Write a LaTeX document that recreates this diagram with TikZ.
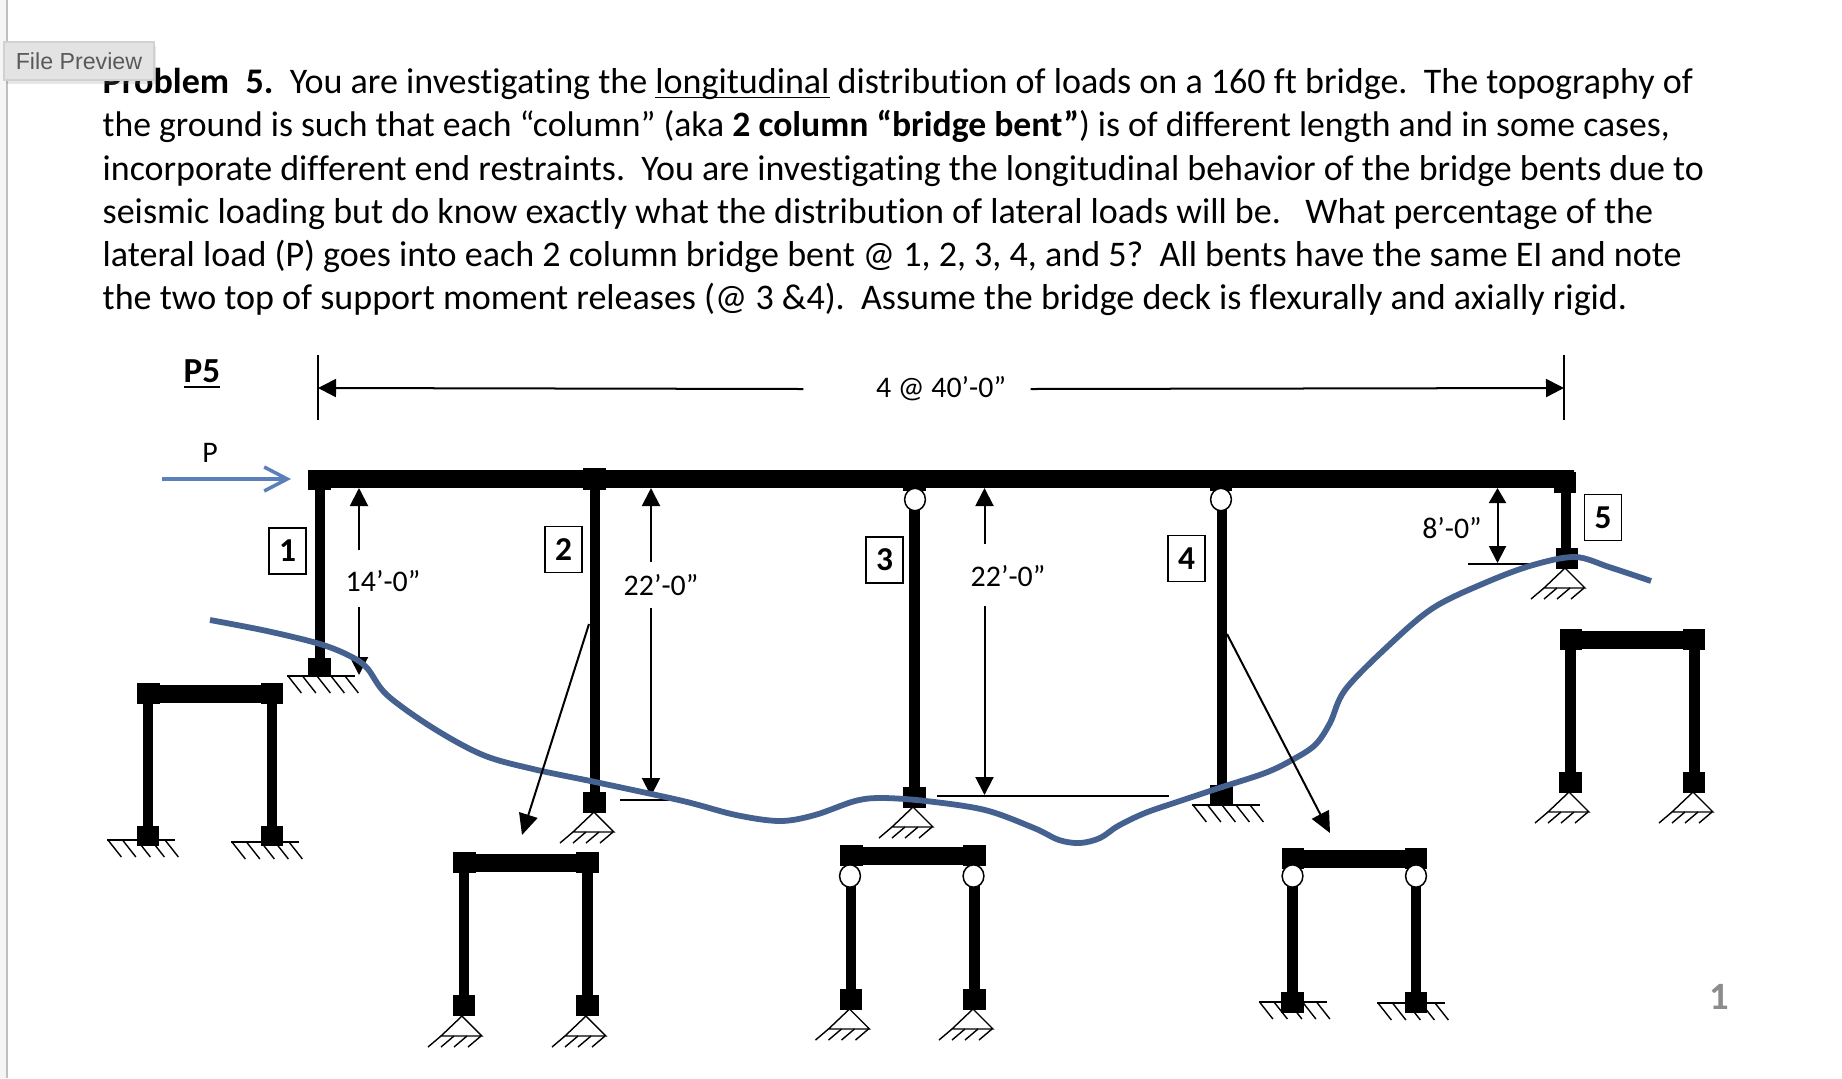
\documentclass[tikz,border=0pt]{standalone}
\usepackage{fontspec}
\setmainfont[Ligatures=CommonOff]{Carlito}
\newfontfamily\tabfont{Liberation Sans}
\usetikzlibrary{arrows.meta,shadows}
\definecolor{groundblue}{HTML}{44618F}
\definecolor{loadblue}{HTML}{5B7FB8}
\definecolor{tabgray}{HTML}{E3E3E3}
\tikzset{
	bodyline/.style={anchor=base west, inner sep=0, font=\fontsize{#1}{12}\selectfont},
	bodyline/.default=10.25,
	dimlabel/.style={inner sep=0, font=\fontsize{8.5}{10}\selectfont},
	numbox/.style={draw, line width=0.016cm, minimum width=0.37cm, minimum height=0.46cm, inner sep=0, font=\fontsize{9.5}{10}\selectfont\bfseries},
	dimline/.style={line width=0.02cm},
	dimarrow/.style={line width=0.02cm, -{Triangle[length=0.18cm,width=0.18cm]}},
	leader/.style={line width=0.02cm, -{Triangle[length=0.21cm,width=0.19cm]}},
}
\def\lowline#1{\setbox0\hbox{#1}\rlap{\rule[-1.5pt]{\wd0}{0.45pt}}\box0\relax}
\def\column(#1,#2,#3){\fill (#1-5.2,#2) rectangle (#1+5.2,#3);}
\def\block(#1,#2){\fill (#1-11.3,#2) rectangle (#1+11.3,#2+20.5);}
\def\hinge(#1,#2){\draw[line width=0.015cm, fill=white] (#1,#2) ellipse (10.4 and 11.2);}
\def\pinsupport(#1,#2){
	\draw[line width=0.014cm] (#1,#2) -- (#1-21,#2+20) -- (#1+20,#2+20) -- cycle;
	\foreach \hx in {-21,-8,5,19} \draw[line width=0.014cm] (#1+\hx,#2+20) -- ++(-13,11);
}
\def\fixsupport(#1,#2){
	\draw[line width=0.014cm] (#1,#2) -- ++(68,0);
	\foreach \hx in {1,15.5,30,44,58} \draw[line width=0.014cm] (#1+\hx,#2) -- ++(13.4,17);
}
\def\bentbeam(#1,#2,#3){
	\fill (#1,#3+2) rectangle (#2,#3+20);
	\fill (#1,#3) rectangle (#1+22.5,#3+21);
	\fill (#2-22.5,#3) rectangle (#2,#3+21);
}

\begin{document}
\begin{tikzpicture}[x=0.01cm,y=-0.01cm]
	\useasboundingbox (0,0) rectangle (1842,1078);
	
	%%%%% PAGE %%%%%
	\fill[black!4] (0,0) rectangle (7,1078);
	\draw[black!25, line width=0.02cm] (7,0) -- (7,1078);
	
	\node[bodyline] (line1) at (102,93) {\textbf{Problem\ \ 5.}\ \ You are investigating the \lowline{longitudinal} distribution of loads on a 160 ft bridge.\ \ The topography of};
	\node[bodyline=10.14] (line2) at (102,136) {the ground is such that each “column” (aka \textbf{2 column “bridge bent”}) is of different length and in some cases,};
	\node[bodyline=10.22] (line3) at (102,180) {incorporate different end restraints.\ \ You are investigating the longitudinal behavior of the bridge bents due to};
	\node[bodyline] (line4) at (102,223) {seismic loading but do know exactly what the distribution of lateral loads will be.\ \ \ What percentage of the};
	\node[bodyline] (line5) at (102,266) {lateral load (P) goes into each 2 column bridge bent @ 1, 2, 3, 4, and 5?\ \ All bents have the same EI and note};
	\node[bodyline] (line6) at (102,309) {the two top of support moment releases (@ 3 \&4).\ \ Assume the bridge deck is flexurally and axially rigid.};
	
	\node[draw=black!18, fill=tabgray, drop shadow={opacity=0.2,shadow xshift=0.02cm,shadow yshift=-0.04cm}, minimum width=1.5cm, minimum height=0.38cm, inner sep=0, text=black!65, font=\tabfont\fontsize{6.6}{8}\selectfont] (filetab) at (79,61) {File Preview};
	
	\node[dimlabel, font=\fontsize{10}{12}\selectfont\bfseries] (probtag) at (202,373.5) {\lowline{P5}};
	\node[dimlabel] (spanlabel) at (941,389) {4 @ 40’-0”};
	\node[dimlabel] (loadlabel) at (210,453) {P};
	\node[dimlabel] (dim14) at (383,581) {14’-0”};
	\node[dimlabel] (dim22a) at (661,585) {22’-0”};
	\node[dimlabel] (dim22b) at (1008,576) {22’-0”};
	\node[dimlabel] (dim8) at (1452,528) {8’-0”};
	\node[dimlabel, text=black!45, font=\fontsize{11}{12}\selectfont\bfseries] (pagenum) at (1719,997) {1};
	
	%%%%% SPAN DIMENSION %%%%%
	\coordinate (spanL) at (318,388);
	\coordinate (spanR) at (1564,388);
	\draw[dimline] (318,355) -- (318,420);
	\draw[dimline] (1564,355) -- (1564,420);
	\draw[dimarrow] (spanlabel.west) ++(-72,0) -- (spanL);
	\draw[dimarrow] (spanlabel.east) ++(24,0) -- (spanR);
	
	%%%%% BRIDGE %%%%%
	\fill (308,470) rectangle (1574,488);
	\fill (308,470) rectangle (331,490);
	\fill (583,468) rectangle (606,490);
	\fill (903,480) rectangle (926,491);
	\fill (1210,480) rectangle (1232,491);
	\fill (1554,472) rectangle (1576,493);
	
	\column(320,488,658)
	\column(595,488,792)
	\column(914.5,505,787)
	\column(1222,505,786)
	\column(1566,490,548)
	
	\hinge(915,499.5)
	\hinge(1221,499.5)
	
	\fill (308,658) rectangle (331,676);
	\block(594.5,792)
	\block(914.5,787)
	\fill (1210,785) rectangle (1233,806);
	\block(1567,548)
	
	\fixsupport(287,676)
	\pinsupport(594,812)
	\pinsupport(913,807)
	\fixsupport(1192,805)
	\pinsupport(1565,568)
	
	%%%%% DIMENSIONS %%%%%
	\coordinate (d14top) at (359,488);
	\coordinate (d14bot) at (359,675);
	\draw[dimarrow] (359,550) -- (d14top);
	\draw[dimarrow] (359,607) -- (d14bot);
	
	\coordinate (d22atop) at (651,488);
	\coordinate (d22abot) at (651,796);
	\draw[dimarrow] (651,562) -- (d22atop);
	\draw[dimarrow] (651,608) -- (d22abot);
	\draw[dimline] (620,800) -- (683,800);
	
	\coordinate (d22btop) at (984.5,488);
	\coordinate (d22bbot) at (984.5,795);
	\draw[dimarrow] (984.5,544) -- (d22btop);
	\draw[dimarrow] (984.5,606) -- (d22bbot);
	\draw[dimline] (937,796) -- (1169,796);
	
	\coordinate (d8top) at (1497.5,488);
	\coordinate (d8bot) at (1497.5,563);
	\draw[dimline, {Triangle[length=0.15cm,width=0.17cm]}-{Triangle[length=0.17cm,width=0.17cm]}] (d8top) -- (d8bot);
	\draw[dimline] (1468,564) -- (1531,564);
	
	%%%%% GROUND %%%%%
	\draw[groundblue, line width=0.058cm] plot[smooth, tension=0.55] coordinates {(210,620) (267,631) (320,644) (350,656) (367,668) (387,695) (433,728) (483,755) (533,769) (600,783) (683,801) (736,815) (780,821) (815,815) (855,801) (882,798) (926,801) (985,810) (1034,828) (1059,840) (1080,843) (1100,838) (1118,826) (1145,813) (1180,801) (1219,788) (1265,773) (1292,760) (1315,745) (1330,723) (1345,690) (1387,647) (1433,608) (1487,582) (1533,565) (1575,557) (1609,567) (1651,581)};
	
	%%%%% LOAD %%%%%
	\coordinate (loadtail) at (162,479);
	\coordinate (loadtip) at (291,479);
	\draw[loadblue, line width=0.035cm, -{Straight Barb[length=0.23cm,width=0.24cm]}] (loadtail) -- (loadtip);
	
	\node[numbox] (box1) at (287.5,551) {1};
	\node[numbox] (box2) at (563.5,549.5) {2};
	\node[numbox] (box3) at (884.5,560) {3};
	\node[numbox] (box4) at (1186.5,558.5) {4};
	\node[numbox] (box5) at (1603,517.5) {5};
	
	%%%%% LEADERS %%%%%
	\coordinate (lead2a) at (589,624);
	\coordinate (lead2b) at (522,835);
	\coordinate (lead4a) at (1227,634);
	\coordinate (lead4b) at (1330,833);
	\draw[leader] (lead2a) -- (lead2b);
	\draw[leader] (lead4a) -- (lead4b);
	
	%%%%% BENT 1 DETAIL %%%%%
	\bentbeam(137,283,683)
	\column(148,700,826)
	\column(272,700,826)
	\fill (137,826) rectangle (159,846);
	\fill (261,826) rectangle (283,846);
	\fixsupport(107,840)
	\fixsupport(231,842)
	
	%%%%% BENT 2 DETAIL %%%%%
	\bentbeam(453,598.5,852)
	\column(464,870,995)
	\column(587.5,870,995)
	\block(464,995)
	\block(587.5,995)
	\pinsupport(462,1016)
	\pinsupport(586,1016)
	
	%%%%% BENT 3 DETAIL %%%%%
	\bentbeam(840,985.6,845)
	\column(851,880,989)
	\column(974.5,880,989)
	\hinge(850,876)
	\hinge(973.5,876)
	\block(851,989)
	\block(974.5,989)
	\pinsupport(849.5,1009)
	\pinsupport(973,1009)
	
	%%%%% BENT 4 DETAIL %%%%%
	\bentbeam(1281.5,1427,848)
	\column(1292.5,880,992)
	\column(1416,880,992)
	\hinge(1292.5,876)
	\hinge(1416,876)
	\fixsupport(1258.5,1002)
	\fixsupport(1377,1003)
	\block(1292.5,992)
	\block(1416,992)
	
	%%%%% BENT 5 DETAIL %%%%%
	\bentbeam(1559.5,1705,629)
	\column(1570.5,645,772)
	\column(1694.5,645,772)
	\block(1570.5,772)
	\block(1694,772)
	\pinsupport(1569,792)
	\pinsupport(1693,792)
	
\end{tikzpicture}
\end{document}
